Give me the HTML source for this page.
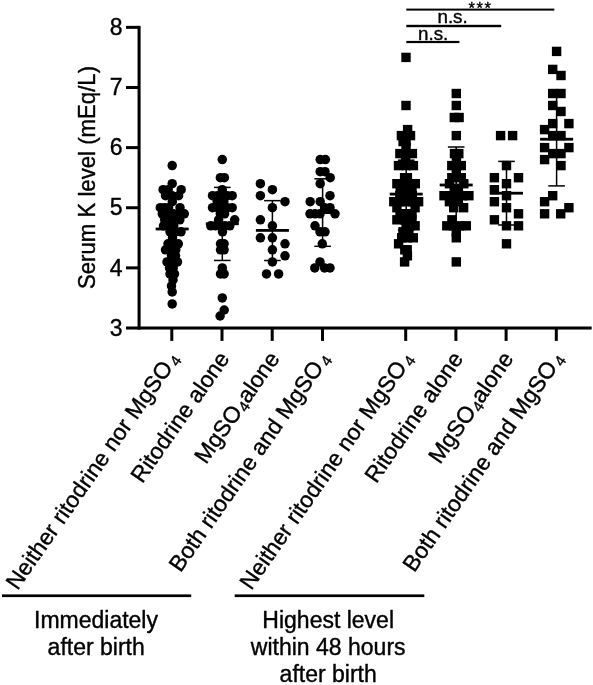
<!DOCTYPE html>
<html><head><meta charset="utf-8"><title>Serum K level</title>
<style>html,body{margin:0;padding:0;background:#fff}body{width:593px;height:685px;overflow:hidden}</style></head>
<body>
<svg width="593" height="685" viewBox="0 0 593 685" style="display:block">
<rect width="593" height="685" fill="#fff"/>
<style>text{stroke:#000;stroke-width:0.38px;stroke-linejoin:round}</style>
<g fill="#000" stroke="none" font-family="'Liberation Sans', Arial, sans-serif">
<rect x="137.55" y="25.85" width="3.05" height="303.7" />
<rect x="126" y="326.5" width="465.65" height="3.05" />
<rect x="126" y="266.37" width="13" height="3.0" />
<rect x="126" y="206.24" width="13" height="3.0" />
<rect x="126" y="146.11" width="13" height="3.0" />
<rect x="126" y="85.98" width="13" height="3.0" />
<rect x="126" y="25.85" width="13" height="3.0" />
<rect x="170.3" y="328" width="3.0" height="12.9" />
<rect x="220.5" y="328" width="3.0" height="12.9" />
<rect x="270.7" y="328" width="3.0" height="12.9" />
<rect x="321.0" y="328" width="3.0" height="12.9" />
<rect x="404.2" y="328" width="3.0" height="12.9" />
<rect x="454.4" y="328" width="3.0" height="12.9" />
<rect x="504.6" y="328" width="3.0" height="12.9" />
<rect x="554.8" y="328" width="3.0" height="12.9" />
<text x="122.6" y="335.7" font-size="23" text-anchor="end">3</text>
<text x="122.6" y="275.6" font-size="23" text-anchor="end">4</text>
<text x="122.6" y="215.4" font-size="23" text-anchor="end">5</text>
<text x="122.6" y="155.3" font-size="23" text-anchor="end">6</text>
<text x="122.6" y="95.2" font-size="23" text-anchor="end">7</text>
<text x="122.6" y="35.0" font-size="23" text-anchor="end">8</text>
<text transform="translate(95.2,177.5) rotate(-90) scale(1,1.04)" font-size="22.2" text-anchor="middle">Serum K level (mEq/L)</text>
<rect x="171.45" y="201.0" width="1.5" height="56.0" />
<rect x="168.2" y="200.25" width="8.0" height="1.5" />
<rect x="168.2" y="256.25" width="8.0" height="1.5" />
<rect x="155.7" y="227.6" width="33" height="2.8" />
<circle cx="172.2" cy="165.6" r="4.75" />
<circle cx="172.2" cy="183.7" r="4.75" />
<circle cx="163.1" cy="189.7" r="4.75" />
<circle cx="168.2" cy="189.7" r="4.75" />
<circle cx="181.2" cy="189.7" r="4.75" />
<circle cx="165.5" cy="195.7" r="4.75" />
<circle cx="172.1" cy="195.7" r="4.75" />
<circle cx="178.6" cy="195.7" r="4.75" />
<circle cx="172.3" cy="201.7" r="4.75" />
<circle cx="160.3" cy="207.7" r="4.75" />
<circle cx="164.5" cy="207.7" r="4.75" />
<circle cx="168.6" cy="207.7" r="4.75" />
<circle cx="180.0" cy="207.7" r="4.75" />
<circle cx="162.3" cy="213.8" r="4.75" />
<circle cx="167.8" cy="213.8" r="4.75" />
<circle cx="173.3" cy="213.8" r="4.75" />
<circle cx="178.8" cy="213.8" r="4.75" />
<circle cx="184.3" cy="213.8" r="4.75" />
<circle cx="164.7" cy="219.8" r="4.75" />
<circle cx="169.7" cy="219.8" r="4.75" />
<circle cx="174.8" cy="219.8" r="4.75" />
<circle cx="179.8" cy="219.8" r="4.75" />
<circle cx="163.5" cy="225.8" r="4.75" />
<circle cx="168.7" cy="225.8" r="4.75" />
<circle cx="173.8" cy="225.8" r="4.75" />
<circle cx="170.0" cy="231.8" r="4.75" />
<circle cx="175.5" cy="231.8" r="4.75" />
<circle cx="181.0" cy="231.8" r="4.75" />
<circle cx="172.5" cy="237.8" r="4.75" />
<circle cx="168.0" cy="243.8" r="4.75" />
<circle cx="173.2" cy="243.8" r="4.75" />
<circle cx="178.3" cy="243.8" r="4.75" />
<circle cx="165.5" cy="249.8" r="4.75" />
<circle cx="170.7" cy="249.8" r="4.75" />
<circle cx="175.8" cy="249.8" r="4.75" />
<circle cx="171.5" cy="255.8" r="4.75" />
<circle cx="175.5" cy="255.8" r="4.75" />
<circle cx="167.0" cy="261.9" r="4.75" />
<circle cx="172.2" cy="261.9" r="4.75" />
<circle cx="177.5" cy="261.9" r="4.75" />
<circle cx="169.5" cy="267.9" r="4.75" />
<circle cx="173.2" cy="267.9" r="4.75" />
<circle cx="170.0" cy="273.9" r="4.75" />
<circle cx="174.5" cy="273.9" r="4.75" />
<circle cx="173.0" cy="279.9" r="4.75" />
<circle cx="171.5" cy="285.9" r="4.75" />
<circle cx="172.2" cy="291.9" r="4.75" />
<circle cx="172.2" cy="303.9" r="4.75" />
<rect x="221.55" y="187.4" width="1.5" height="73.0" />
<rect x="214.0" y="186.65" width="16.6" height="1.5" />
<rect x="214.0" y="259.70" width="16.6" height="1.5" />
<rect x="205.8" y="222.4" width="33" height="2.8" />
<circle cx="222.3" cy="159.6" r="4.75" />
<circle cx="220.4" cy="177.7" r="4.75" />
<circle cx="224.4" cy="177.7" r="4.75" />
<circle cx="222.3" cy="189.7" r="4.75" />
<circle cx="212.5" cy="195.7" r="4.75" />
<circle cx="217.4" cy="195.7" r="4.75" />
<circle cx="222.3" cy="195.7" r="4.75" />
<circle cx="227.3" cy="195.7" r="4.75" />
<circle cx="232.2" cy="195.7" r="4.75" />
<circle cx="217.2" cy="201.7" r="4.75" />
<circle cx="223.8" cy="201.7" r="4.75" />
<circle cx="212.5" cy="207.7" r="4.75" />
<circle cx="217.4" cy="207.7" r="4.75" />
<circle cx="222.3" cy="207.7" r="4.75" />
<circle cx="227.3" cy="207.7" r="4.75" />
<circle cx="232.2" cy="207.7" r="4.75" />
<circle cx="220.3" cy="213.8" r="4.75" />
<circle cx="224.6" cy="213.8" r="4.75" />
<circle cx="218.6" cy="219.8" r="4.75" />
<circle cx="234.7" cy="219.8" r="4.75" />
<circle cx="210.8" cy="225.8" r="4.75" />
<circle cx="215.5" cy="225.8" r="4.75" />
<circle cx="220.3" cy="225.8" r="4.75" />
<circle cx="225.0" cy="225.8" r="4.75" />
<circle cx="229.8" cy="225.8" r="4.75" />
<circle cx="222.5" cy="231.8" r="4.75" />
<circle cx="220.5" cy="243.8" r="4.75" />
<circle cx="224.1" cy="243.8" r="4.75" />
<circle cx="220.5" cy="249.8" r="4.75" />
<circle cx="224.1" cy="249.8" r="4.75" />
<circle cx="222.3" cy="267.9" r="4.75" />
<circle cx="220.5" cy="273.9" r="4.75" />
<circle cx="224.1" cy="273.9" r="4.75" />
<circle cx="222.3" cy="297.9" r="4.75" />
<circle cx="224.2" cy="310.0" r="4.75" />
<circle cx="220.1" cy="316.0" r="4.75" />
<rect x="271.65" y="200.7" width="1.5" height="59.8" />
<rect x="264.1" y="199.90" width="16.6" height="1.5" />
<rect x="264.1" y="259.75" width="16.6" height="1.5" />
<rect x="255.9" y="229.0" width="33" height="2.8" />
<circle cx="260.4" cy="183.7" r="4.75" />
<circle cx="272.4" cy="189.7" r="4.75" />
<circle cx="260.4" cy="195.7" r="4.75" />
<circle cx="285.0" cy="201.7" r="4.75" />
<circle cx="272.4" cy="207.7" r="4.75" />
<circle cx="260.4" cy="219.8" r="4.75" />
<circle cx="272.4" cy="225.8" r="4.75" />
<circle cx="260.4" cy="237.8" r="4.75" />
<circle cx="272.4" cy="237.8" r="4.75" />
<circle cx="285.0" cy="243.8" r="4.75" />
<circle cx="272.4" cy="249.8" r="4.75" />
<circle cx="285.0" cy="255.8" r="4.75" />
<circle cx="272.4" cy="261.9" r="4.75" />
<circle cx="266.5" cy="273.9" r="4.75" />
<circle cx="278.6" cy="273.9" r="4.75" />
<rect x="321.85" y="178.8" width="1.5" height="67.5" />
<rect x="314.3" y="178.05" width="16.6" height="1.5" />
<rect x="314.3" y="245.55" width="16.6" height="1.5" />
<rect x="306.1" y="211.2" width="33" height="2.8" />
<circle cx="320.2" cy="159.6" r="4.75" />
<circle cx="325.4" cy="159.6" r="4.75" />
<circle cx="320.2" cy="171.7" r="4.75" />
<circle cx="325.0" cy="171.7" r="4.75" />
<circle cx="330.2" cy="177.7" r="4.75" />
<circle cx="320.2" cy="183.7" r="4.75" />
<circle cx="330.0" cy="195.7" r="4.75" />
<circle cx="310.2" cy="201.7" r="4.75" />
<circle cx="320.2" cy="201.7" r="4.75" />
<circle cx="324.6" cy="207.7" r="4.75" />
<circle cx="330.0" cy="207.7" r="4.75" />
<circle cx="310.0" cy="213.8" r="4.75" />
<circle cx="315.0" cy="213.8" r="4.75" />
<circle cx="320.0" cy="213.8" r="4.75" />
<circle cx="335.0" cy="213.8" r="4.75" />
<circle cx="315.0" cy="225.8" r="4.75" />
<circle cx="320.0" cy="231.8" r="4.75" />
<circle cx="325.0" cy="231.8" r="4.75" />
<circle cx="322.3" cy="243.8" r="4.75" />
<circle cx="320.0" cy="261.9" r="4.75" />
<circle cx="314.8" cy="267.9" r="4.75" />
<circle cx="324.6" cy="267.9" r="4.75" />
<circle cx="330.0" cy="267.9" r="4.75" />
<rect x="405.45" y="160.2" width="1.5" height="69.8" />
<rect x="397.9" y="159.45" width="16.6" height="1.5" />
<rect x="397.9" y="229.25" width="16.6" height="1.5" />
<rect x="389.7" y="192.7" width="33" height="2.8" />
<rect x="401.3" y="52.7" width="9.4" height="9.4" />
<rect x="401.3" y="100.8" width="9.4" height="9.4" />
<rect x="402.9" y="124.9" width="9.4" height="9.4" />
<rect x="396.7" y="130.9" width="9.4" height="9.4" />
<rect x="405.8" y="130.9" width="9.4" height="9.4" />
<rect x="398.4" y="136.9" width="9.4" height="9.4" />
<rect x="401.4" y="136.9" width="9.4" height="9.4" />
<rect x="401.3" y="142.9" width="9.4" height="9.4" />
<rect x="395.2" y="148.9" width="9.4" height="9.4" />
<rect x="401.4" y="148.9" width="9.4" height="9.4" />
<rect x="407.7" y="148.9" width="9.4" height="9.4" />
<rect x="400.8" y="154.9" width="9.4" height="9.4" />
<rect x="393.8" y="160.9" width="9.4" height="9.4" />
<rect x="401.3" y="160.9" width="9.4" height="9.4" />
<rect x="408.7" y="160.9" width="9.4" height="9.4" />
<rect x="399.9" y="173.0" width="9.4" height="9.4" />
<rect x="402.7" y="173.0" width="9.4" height="9.4" />
<rect x="392.2" y="179.0" width="9.4" height="9.4" />
<rect x="398.3" y="179.0" width="9.4" height="9.4" />
<rect x="404.5" y="179.0" width="9.4" height="9.4" />
<rect x="410.6" y="179.0" width="9.4" height="9.4" />
<rect x="395.5" y="185.0" width="9.4" height="9.4" />
<rect x="401.4" y="185.0" width="9.4" height="9.4" />
<rect x="407.3" y="185.0" width="9.4" height="9.4" />
<rect x="395.1" y="191.0" width="9.4" height="9.4" />
<rect x="401.4" y="191.0" width="9.4" height="9.4" />
<rect x="407.6" y="191.0" width="9.4" height="9.4" />
<rect x="389.1" y="197.0" width="9.4" height="9.4" />
<rect x="395.3" y="197.0" width="9.4" height="9.4" />
<rect x="401.5" y="197.0" width="9.4" height="9.4" />
<rect x="407.7" y="197.0" width="9.4" height="9.4" />
<rect x="413.9" y="197.0" width="9.4" height="9.4" />
<rect x="392.2" y="203.0" width="9.4" height="9.4" />
<rect x="410.4" y="203.0" width="9.4" height="9.4" />
<rect x="395.3" y="209.1" width="9.4" height="9.4" />
<rect x="401.3" y="209.1" width="9.4" height="9.4" />
<rect x="407.3" y="209.1" width="9.4" height="9.4" />
<rect x="392.2" y="215.1" width="9.4" height="9.4" />
<rect x="399.8" y="215.1" width="9.4" height="9.4" />
<rect x="407.3" y="215.1" width="9.4" height="9.4" />
<rect x="401.4" y="221.1" width="9.4" height="9.4" />
<rect x="410.4" y="221.1" width="9.4" height="9.4" />
<rect x="398.3" y="227.1" width="9.4" height="9.4" />
<rect x="404.2" y="227.1" width="9.4" height="9.4" />
<rect x="397.0" y="233.1" width="9.4" height="9.4" />
<rect x="402.8" y="233.1" width="9.4" height="9.4" />
<rect x="408.6" y="233.1" width="9.4" height="9.4" />
<rect x="393.9" y="239.1" width="9.4" height="9.4" />
<rect x="400.1" y="245.1" width="9.4" height="9.4" />
<rect x="402.5" y="245.1" width="9.4" height="9.4" />
<rect x="402.7" y="251.1" width="9.4" height="9.4" />
<rect x="399.9" y="257.2" width="9.4" height="9.4" />
<rect x="455.45" y="147.0" width="1.5" height="75.9" />
<rect x="447.9" y="146.25" width="16.6" height="1.5" />
<rect x="447.9" y="222.15" width="16.6" height="1.5" />
<rect x="439.7" y="183.6" width="33" height="2.8" />
<rect x="451.6" y="88.8" width="9.4" height="9.4" />
<rect x="451.6" y="100.8" width="9.4" height="9.4" />
<rect x="449.6" y="112.8" width="9.4" height="9.4" />
<rect x="454.4" y="112.8" width="9.4" height="9.4" />
<rect x="451.6" y="130.9" width="9.4" height="9.4" />
<rect x="449.8" y="148.9" width="9.4" height="9.4" />
<rect x="454.1" y="148.9" width="9.4" height="9.4" />
<rect x="451.7" y="154.9" width="9.4" height="9.4" />
<rect x="447.1" y="160.9" width="9.4" height="9.4" />
<rect x="456.6" y="160.9" width="9.4" height="9.4" />
<rect x="451.6" y="167.0" width="9.4" height="9.4" />
<rect x="447.1" y="173.0" width="9.4" height="9.4" />
<rect x="456.6" y="173.0" width="9.4" height="9.4" />
<rect x="444.8" y="179.0" width="9.4" height="9.4" />
<rect x="459.1" y="179.0" width="9.4" height="9.4" />
<rect x="449.5" y="185.0" width="9.4" height="9.4" />
<rect x="453.7" y="185.0" width="9.4" height="9.4" />
<rect x="439.3" y="191.0" width="9.4" height="9.4" />
<rect x="445.5" y="191.0" width="9.4" height="9.4" />
<rect x="451.8" y="191.0" width="9.4" height="9.4" />
<rect x="458.0" y="191.0" width="9.4" height="9.4" />
<rect x="464.2" y="191.0" width="9.4" height="9.4" />
<rect x="444.7" y="197.0" width="9.4" height="9.4" />
<rect x="453.7" y="197.0" width="9.4" height="9.4" />
<rect x="449.0" y="203.0" width="9.4" height="9.4" />
<rect x="458.9" y="203.0" width="9.4" height="9.4" />
<rect x="447.2" y="215.1" width="9.4" height="9.4" />
<rect x="442.1" y="221.1" width="9.4" height="9.4" />
<rect x="448.6" y="221.1" width="9.4" height="9.4" />
<rect x="455.1" y="221.1" width="9.4" height="9.4" />
<rect x="461.6" y="221.1" width="9.4" height="9.4" />
<rect x="451.6" y="227.1" width="9.4" height="9.4" />
<rect x="451.6" y="233.1" width="9.4" height="9.4" />
<rect x="451.6" y="257.2" width="9.4" height="9.4" />
<rect x="505.75" y="161.4" width="1.5" height="63.6" />
<rect x="498.2" y="160.65" width="16.6" height="1.5" />
<rect x="498.2" y="224.25" width="16.6" height="1.5" />
<rect x="490.0" y="191.8" width="33" height="2.8" />
<rect x="495.9" y="130.9" width="9.4" height="9.4" />
<rect x="507.9" y="130.9" width="9.4" height="9.4" />
<rect x="501.8" y="160.9" width="9.4" height="9.4" />
<rect x="489.7" y="173.0" width="9.4" height="9.4" />
<rect x="513.8" y="173.0" width="9.4" height="9.4" />
<rect x="501.8" y="179.0" width="9.4" height="9.4" />
<rect x="489.7" y="185.0" width="9.4" height="9.4" />
<rect x="501.8" y="191.0" width="9.4" height="9.4" />
<rect x="489.7" y="197.0" width="9.4" height="9.4" />
<rect x="501.8" y="203.0" width="9.4" height="9.4" />
<rect x="513.8" y="209.1" width="9.4" height="9.4" />
<rect x="489.7" y="215.1" width="9.4" height="9.4" />
<rect x="501.8" y="221.1" width="9.4" height="9.4" />
<rect x="513.8" y="221.1" width="9.4" height="9.4" />
<rect x="501.8" y="239.1" width="9.4" height="9.4" />
<rect x="555.85" y="92.5" width="1.5" height="93.4" />
<rect x="548.3" y="91.75" width="16.6" height="1.5" />
<rect x="548.3" y="185.15" width="16.6" height="1.5" />
<rect x="540.1" y="137.8" width="33" height="2.8" />
<rect x="551.9" y="46.7" width="9.4" height="9.4" />
<rect x="548.0" y="64.7" width="9.4" height="9.4" />
<rect x="556.3" y="70.8" width="9.4" height="9.4" />
<rect x="548.0" y="88.8" width="9.4" height="9.4" />
<rect x="556.3" y="88.8" width="9.4" height="9.4" />
<rect x="548.0" y="100.8" width="9.4" height="9.4" />
<rect x="556.3" y="106.8" width="9.4" height="9.4" />
<rect x="548.0" y="118.9" width="9.4" height="9.4" />
<rect x="564.2" y="118.9" width="9.4" height="9.4" />
<rect x="539.9" y="124.9" width="9.4" height="9.4" />
<rect x="548.0" y="130.9" width="9.4" height="9.4" />
<rect x="556.3" y="130.9" width="9.4" height="9.4" />
<rect x="539.9" y="142.9" width="9.4" height="9.4" />
<rect x="564.2" y="142.9" width="9.4" height="9.4" />
<rect x="548.0" y="148.9" width="9.4" height="9.4" />
<rect x="556.3" y="148.9" width="9.4" height="9.4" />
<rect x="539.9" y="154.9" width="9.4" height="9.4" />
<rect x="556.3" y="160.9" width="9.4" height="9.4" />
<rect x="548.0" y="191.0" width="9.4" height="9.4" />
<rect x="539.9" y="197.0" width="9.4" height="9.4" />
<rect x="564.2" y="203.0" width="9.4" height="9.4" />
<rect x="539.9" y="209.1" width="9.4" height="9.4" />
<rect x="556.0" y="209.1" width="9.4" height="9.4" />
<rect x="406.3" y="8.6" width="148" height="2.0" />
<rect x="406.3" y="24.8" width="94.9" height="2.4" />
<rect x="406.3" y="40.9" width="53.1" height="2.2" />
<text x="480.5" y="13.6" font-size="16.5" letter-spacing="1.6" text-anchor="middle">***</text>
<text x="452.6" y="23.3" font-size="18.8" text-anchor="middle">n.s.</text>
<text x="433.2" y="39.6" font-size="18.8" text-anchor="middle">n.s.</text>
<text transform="translate(180.0,358.7) rotate(-55)" font-size="22.8" text-anchor="end">Neither ritodrine nor MgSO<tspan font-size="15.2" dy="3" dx="2.6">4</tspan></text>
<text transform="translate(230.2,358.7) rotate(-55)" font-size="22.8" text-anchor="end">Ritodrine alone</text>
<text transform="translate(280.4,358.7) rotate(-55)" font-size="22.8" text-anchor="end">MgSO<tspan font-size="15.2" dy="3" dx="0.8">4</tspan><tspan dy="-3">alone</tspan></text>
<text transform="translate(330.7,358.7) rotate(-55)" font-size="22.8" text-anchor="end">Both ritodrine and MgSO<tspan font-size="15.2" dy="3" dx="2.6">4</tspan></text>
<text transform="translate(413.9,358.7) rotate(-55)" font-size="22.8" text-anchor="end">Neither ritodrine nor MgSO<tspan font-size="15.2" dy="3" dx="2.6">4</tspan></text>
<text transform="translate(464.1,358.7) rotate(-55)" font-size="22.8" text-anchor="end">Ritodrine alone</text>
<text transform="translate(514.3,358.7) rotate(-55)" font-size="22.8" text-anchor="end">MgSO<tspan font-size="15.2" dy="3" dx="0.8">4</tspan><tspan dy="-3">alone</tspan></text>
<text transform="translate(564.5,358.7) rotate(-55)" font-size="22.8" text-anchor="end">Both ritodrine and MgSO<tspan font-size="15.2" dy="3" dx="2.6">4</tspan></text>
<rect x="2" y="594.4" width="189.2" height="2.7" />
<rect x="234.7" y="594.4" width="189.6" height="2.7" />
<text x="96" y="627.7" font-size="23" text-anchor="middle">Immediately</text>
<text x="96.2" y="654.7" font-size="23" text-anchor="middle">after birth</text>
<text x="328.2" y="627.7" font-size="23" text-anchor="middle">Highest level</text>
<text x="328.2" y="654.7" font-size="23" text-anchor="middle">within 48 hours</text>
<text x="328.2" y="681.7" font-size="23" text-anchor="middle">after birth</text>
</g></svg>
</body></html>
